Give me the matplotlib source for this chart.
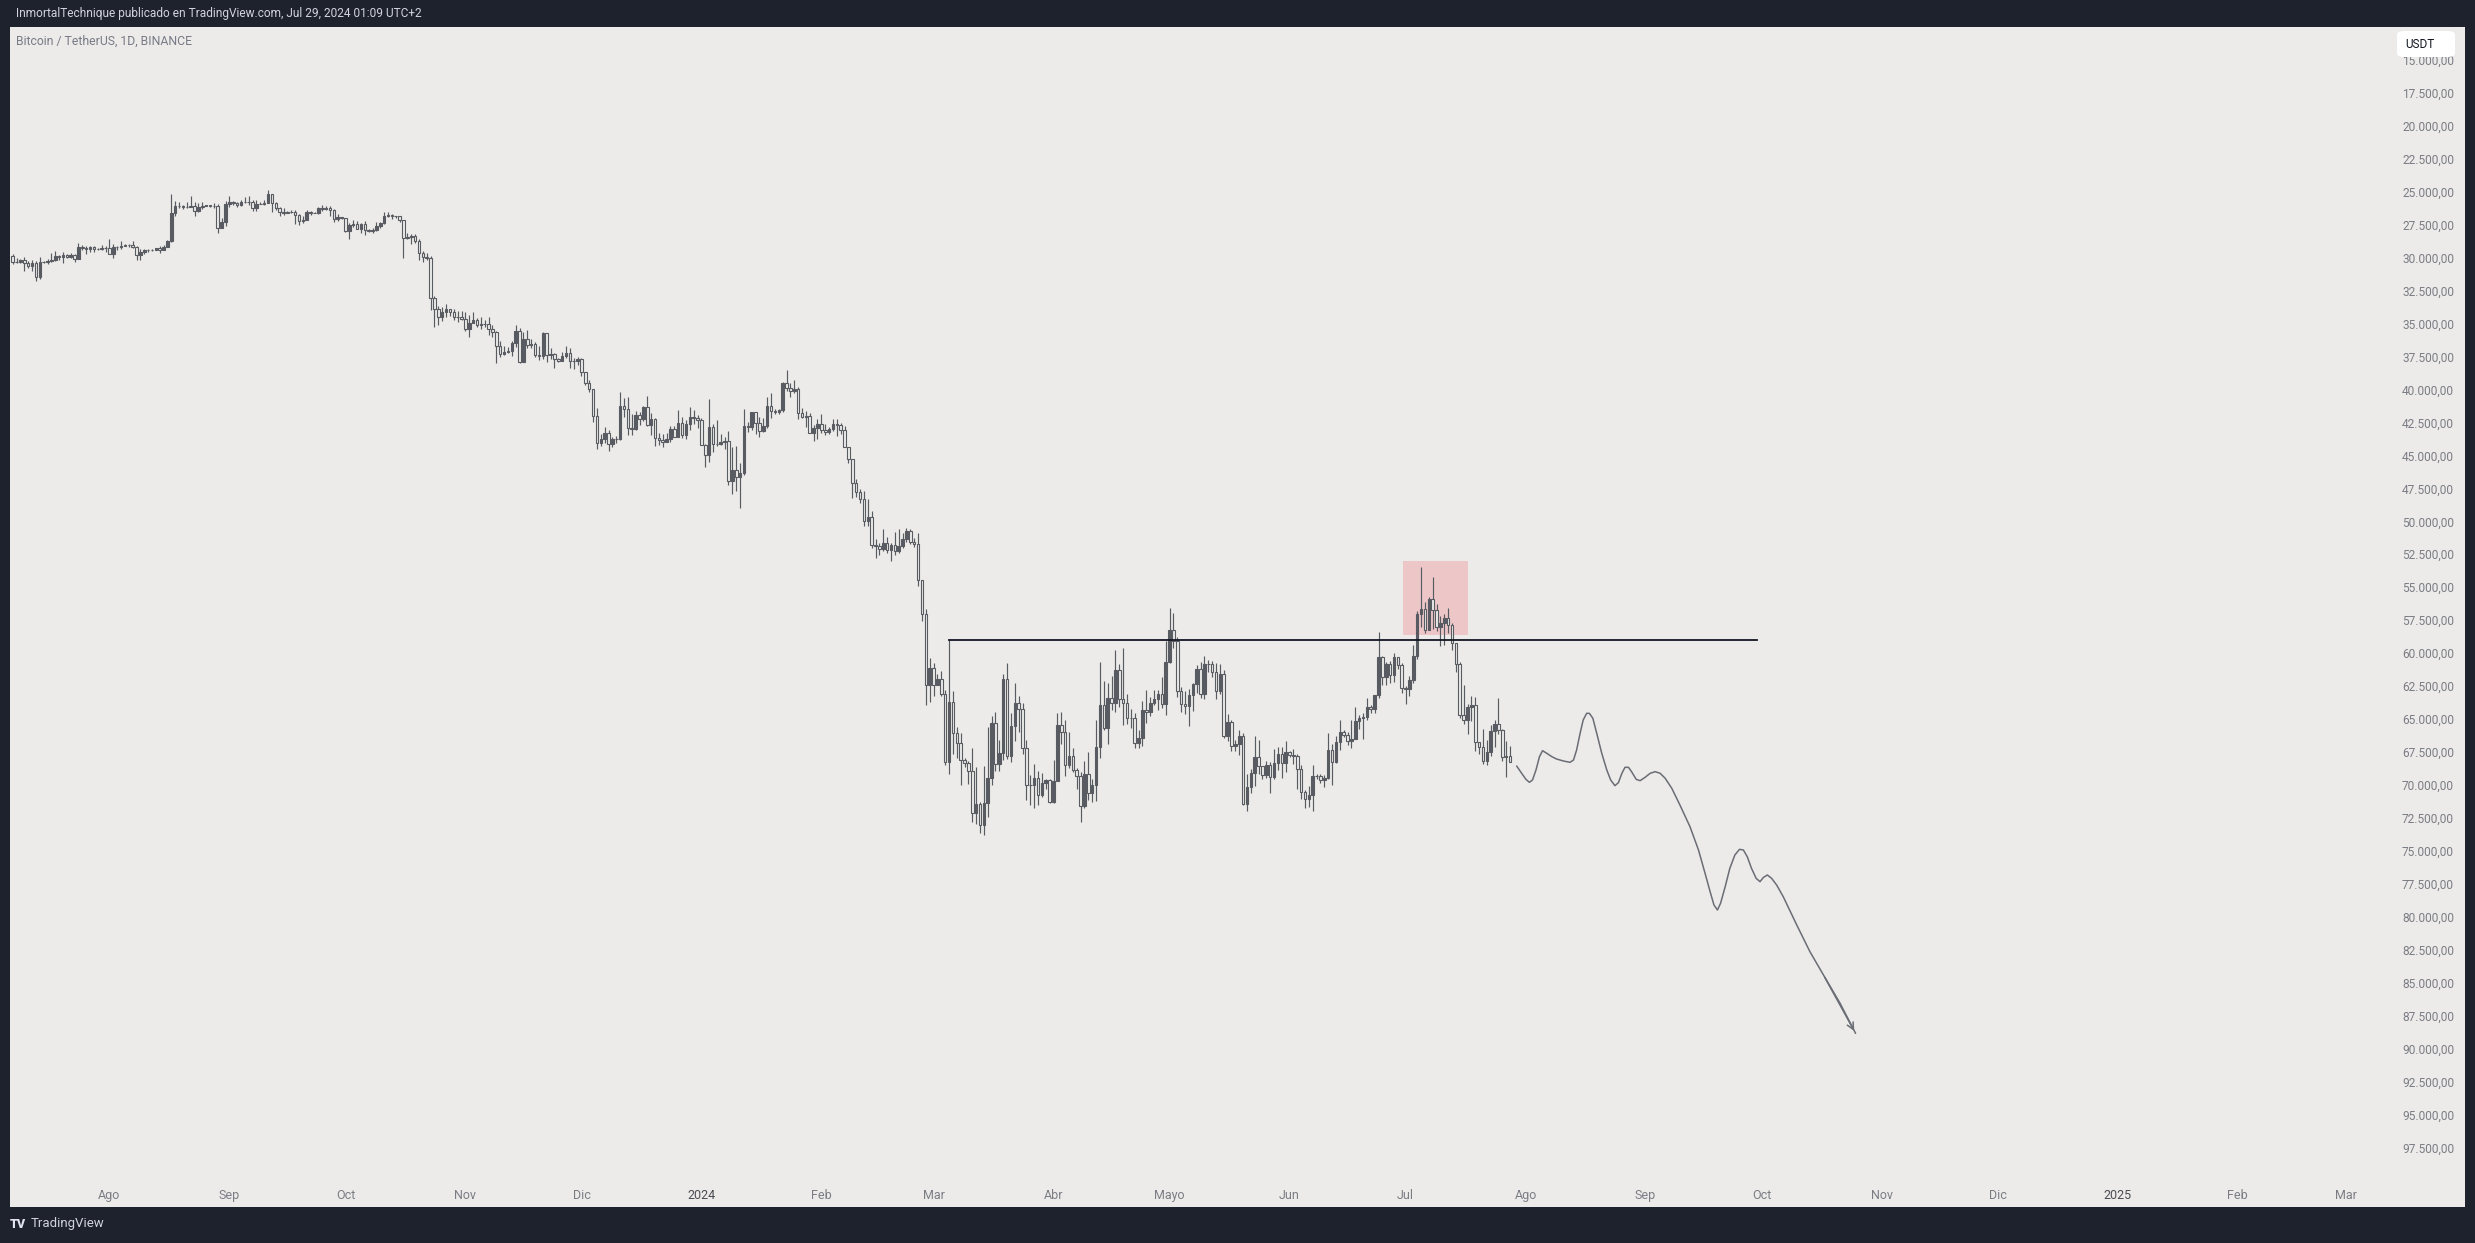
import matplotlib.pyplot as plt
from matplotlib.patches import Rectangle, FancyBboxPatch
import numpy as np
import pandas as pd

W_PX, H_PX = 2475, 1243
DPI = 100

BG_DARK = '#1e222d'
BG_PANE = '#ecebe9'
CANDLE = '#595b62'
TXT_AXIS = '#7b7d85'

plt.rcParams['font.family'] = ['Roboto', 'DejaVu Sans']

# BTCUSDT daily candles, 2023-07-07 -> 2024-07-28 (open = previous close)
START_DATE = '2023-07-07'
FIRST_OPEN = 29900

closes = [
    30340, 30290, 30170, 30410, 30620, 30390, 31450, 30310, 30290, 30230, 30140, 29860, 29910, 29800, 29910, 29790, 30080, 29180, 29230, 29350, 29220, 29310, 29350, 29280, 29230,  # jul
    29710, 29180, 29180, 29080, 29060, 29050, 29180, 29770, 29580, 29430, 29400, 29420, 29280, 29410, 29170, 28700, 26620, 26050, 26100, 26190, 26120, 26050, 26430, 26160, 26050, 26010, 26090, 26100, 27720, 27300, 25930,  # aug
    25800, 25870, 25970, 25810, 25790, 25750, 26240, 25910, 25900, 25840, 25160, 25840, 26230, 26540, 26600, 26570, 26530, 26760, 27210, 27130, 26570, 26580, 26580, 26250, 26300, 26210, 26350, 27030, 26910, 26970,  # sep
    27990, 27500, 27430, 27790, 27410, 27930, 27960, 27920, 27590, 27390, 26870, 26760, 26860, 26850, 27150, 28500, 28400, 28330, 28710, 29680, 29920, 29990, 33070, 33900, 34500, 34150, 33890, 34090, 34530, 34490, 34640,  # oct
    35420, 34940, 34730, 35080, 35050, 35040, 35420, 35630, 36700, 37320, 37130, 37060, 36490, 35550, 37880, 36160, 36600, 36570, 37360, 37450, 35750, 37410, 37290, 37720, 37800, 37450, 37240, 37830, 37850, 37710,  # nov
    38690, 39480, 39970, 41990, 44080, 43770, 43290, 44170, 43720, 43790, 41240, 41450, 42890, 43020, 41930, 42240, 41360, 42660, 42260, 43660, 43860, 43990, 43730, 43010, 43580, 42510, 43460, 42580, 42070, 42140, 42280,  # dec
    44180, 44940, 42850, 44150, 44160, 43970, 43930, 46970, 46120, 46630, 46340, 42780, 42850, 41730, 42510, 43150, 42740, 41260, 41620, 41670, 41550, 39510, 39850, 40080, 39930, 41820, 42120, 42030, 43300, 42940, 42580,  # jan
    43080, 43190, 42990, 42580, 42710, 43090, 44340, 45290, 47130, 47750, 48290, 49950, 49700, 51800, 51900, 52130, 51640, 52140, 51780, 52280, 51850, 51310, 50730, 51570, 51730, 54480, 57040, 62430, 61130,  # feb
    62390, 61990, 63130, 68250, 63720, 66070, 66810, 68140, 68310, 68950, 72120, 71460, 73070, 71390, 69500, 65300, 68390, 67610, 61940, 67840, 65500, 63800, 64210, 67230, 69990, 69980, 69470, 70780, 69890, 69650, 71330,  # mar
    69700, 65460, 65960, 68490, 67820, 68900, 69360, 71620, 69150, 70630, 70010, 67120, 63920, 65660, 63420, 63790, 61280, 63470, 63820, 64940, 64940, 66840, 66410, 64280, 64490, 63770, 63460, 63120, 63840, 60640,  # apr
    58250, 59120, 62890, 63890, 64010, 63160, 62330, 61190, 63070, 60790, 60820, 61450, 62900, 61550, 66260, 65230, 67030, 66930, 66270, 71450, 70140, 69120, 67920, 68530, 69280, 68510, 69390, 68370, 67630, 68360, 67490,  # may
    67710, 67770, 68800, 70570, 71080, 70760, 69340, 69310, 69650, 69510, 67320, 68240, 66760, 66010, 66190, 66640, 66490, 65150, 64960, 64830, 64100, 64250, 63180, 60280, 61800, 60860, 61670, 60320, 60890, 62680,  # jun
    62760, 62030, 60200, 57020, 56660, 58230, 55860, 56710, 58050, 57720, 57340, 57890, 59200, 60800, 64720, 65040, 64090, 63970, 66710, 67150, 68170, 67530, 65930, 65370, 65800, 67900, 67810, 68250,  # jul
]
highs = [
    30450, 30380, 30430, 31040, 30800, 30990, 31800, 31630, 30400, 30460, 30340, 30240, 30190, 30410, 30050, 29990, 30350, 30100, 29380, 29690, 29570, 29530, 29410, 29450, 29530,
    29740, 30050, 29420, 29310, 29110, 29160, 29240, 30180, 30140, 29700, 29540, 29460, 29450, 29670, 29440, 29220, 28780, 26810, 26260, 26300, 26250, 26130, 26820, 26560, 26300, 26090, 26170, 26220, 28140, 27760, 27580,
    26150, 25970, 26120, 26090, 25860, 26030, 26440, 26420, 25950, 26000, 25880, 26540, 26400, 26860, 26780, 26630, 26620, 27430, 27490, 27380, 27150, 26740, 26640, 26720, 26420, 26390, 26830, 27310, 27230, 27090,
    28060, 28600, 27670, 27830, 28120, 28290, 28030, 28110, 27990, 27730, 27480, 26940, 27100, 26960, 27290, 30000, 28610, 28980, 28900, 30200, 30350, 30200, 34000, 35280, 35130, 34830, 34480, 34460, 34750, 34850, 34720,
    35570, 35980, 34940, 35250, 35380, 35280, 35890, 35980, 37970, 37530, 37400, 37230, 37440, 36760, 37980, 37930, 36840, 36850, 37500, 37750, 37650, 37890, 37650, 38400, 37890, 37840, 37580, 38370, 38430, 38140,
    38970, 39690, 40200, 42430, 44490, 44300, 44050, 44700, 44370, 44040, 43800, 42100, 43430, 43420, 43090, 42700, 42420, 42760, 43480, 44280, 44230, 44370, 43800, 43950, 43640, 43590, 43700, 43790, 43110, 42600, 42890,
    44190, 45900, 45500, 44730, 44320, 44190, 44490, 47250, 47900, 47690, 48970, 46500, 43250, 43070, 43400, 43580, 43200, 42930, 42200, 41870, 41890, 41700, 40130, 40540, 40300, 42220, 42200, 42840, 43320, 43880, 43740,
    43290, 43490, 43380, 43120, 43530, 43400, 44390, 45600, 48200, 48160, 48590, 50330, 50370, 52040, 52820, 52570, 52220, 52380, 52980, 52570, 52370, 52010, 51550, 51700, 51960, 54940, 57580, 63910, 63680,
    63230, 62430, 63230, 68500, 69170, 67640, 67980, 69990, 68620, 69950, 72800, 73000, 73650, 73780, 72410, 70000, 68940, 68960, 68100, 68070, 68240, 66650, 65970, 67620, 71160, 71560, 71730, 71540, 70900, 70330, 71370,
    71340, 69700, 66920, 69290, 68720, 69030, 70330, 72800, 71760, 71170, 71280, 71250, 67940, 65840, 66880, 64350, 64460, 64120, 65450, 65390, 65670, 67210, 67200, 67060, 65290, 64800, 63920, 64350, 64170, 64700,
    60780, 59600, 63300, 64490, 64650, 65500, 64390, 62990, 63420, 63460, 61470, 61820, 63450, 63100, 66440, 66680, 67420, 67400, 67700, 71520, 71950, 70650, 70080, 69200, 69570, 69500, 70600, 69580, 68900, 69500, 69000,
    67860, 68450, 70290, 71060, 71760, 71650, 71980, 69570, 69850, 70150, 69560, 69990, 68370, 67320, 66400, 66980, 67190, 66500, 65730, 66480, 65070, 64520, 64520, 63370, 62400, 62450, 62300, 62180, 61190, 63000,
    63840, 63280, 62290, 60470, 58000, 58480, 58240, 58200, 58300, 59470, 59360, 58500, 59800, 61420, 64900, 65390, 66130, 65120, 67450, 67620, 68380, 68480, 67800, 67100, 66160, 68220, 69400, 68300,
]
lows = [
    29700, 30050, 30080, 29950, 30280, 30200, 30250, 29950, 30250, 30080, 29650, 29520, 29760, 29560, 29720, 29640, 29740, 28860, 29060, 29100, 29080, 29120, 29260, 29030, 29110,
    28590, 28950, 29100, 28750, 28960, 28970, 28700, 29120, 29370, 29350, 29350, 29370, 29250, 29100, 29070, 28680, 25170, 25660, 25800, 25980, 25810, 25350, 25800, 25860, 25770, 25970, 25990, 25870, 25920, 27020, 25660,
    25330, 25720, 25810, 25600, 25370, 25350, 25600, 25650, 25800, 25600, 24900, 25130, 25770, 26130, 26230, 26480, 26410, 26380, 26670, 26850, 26350, 26480, 26520, 26130, 26000, 26100, 26110, 26340, 26660, 26890,
    26950, 27330, 27160, 27220, 27350, 27180, 27850, 27720, 27280, 27300, 26540, 26560, 26700, 26820, 26810, 27110, 28100, 28170, 28180, 28600, 29480, 29660, 29880, 32880, 33700, 33750, 33520, 33870, 33930, 34050, 34070,
    34100, 34350, 34100, 34600, 34530, 34730, 34520, 35110, 35530, 36330, 36720, 36760, 36340, 35080, 35360, 35670, 35510, 36190, 36400, 36700, 35630, 35730, 36870, 37250, 37600, 37150, 36720, 36880, 37580, 37500,
    37620, 38650, 39280, 39970, 41420, 43340, 42820, 43080, 43590, 43560, 40220, 40680, 40600, 41830, 41660, 41690, 41250, 40500, 41800, 42200, 43290, 43400, 43300, 42740, 42760, 41520, 42100, 42300, 41300, 41520, 41970,
    42180, 44150, 40750, 42630, 42300, 43400, 43570, 43180, 44340, 44300, 45600, 41500, 42440, 41720, 41720, 42050, 42200, 40600, 40280, 41450, 41500, 39430, 38550, 39480, 39260, 39820, 41400, 41620, 41800, 42680, 42270,
    41880, 42580, 42870, 42250, 42260, 42570, 42790, 44330, 45240, 46800, 47560, 47700, 48300, 49250, 51330, 51610, 50620, 51160, 51660, 50800, 50620, 50880, 50520, 50580, 51270, 50900, 54450, 56640, 60360,
    60770, 61580, 61330, 62820, 59000, 62840, 65600, 66060, 67980, 68180, 67200, 68620, 71330, 68560, 65600, 64780, 64500, 66600, 61560, 60780, 64530, 62260, 63220, 63800, 66590, 69280, 68380, 68910, 69100, 69530, 69570,
    68110, 64540, 64490, 65080, 66010, 67230, 68710, 69040, 68210, 67520, 69570, 65090, 60660, 62130, 62300, 61710, 59760, 60830, 59600, 63100, 64230, 64520, 65800, 63600, 62770, 63300, 62800, 62790, 61800, 59100,
    56550, 56930, 58780, 62580, 62870, 62730, 62250, 60880, 60650, 60200, 60490, 60630, 60750, 60800, 61300, 64600, 65100, 66600, 65860, 66060, 69170, 68820, 66310, 66620, 68530, 68220, 68230, 67280, 67120, 67130, 66650,
    67400, 67300, 67620, 68500, 70380, 70120, 68500, 69210, 69140, 69230, 66050, 66900, 66300, 65070, 65870, 66000, 65100, 64060, 64660, 64530, 63380, 63940, 63170, 58400, 60240, 60680, 60600, 60000, 60300, 60720,
    62500, 61770, 59400, 56770, 53490, 56100, 55780, 54260, 56300, 57150, 57060, 56550, 57750, 59200, 60640, 62450, 63880, 63250, 63300, 66720, 65740, 66570, 65450, 65100, 63430, 65790, 66660, 67060,
]

# drawings (x in days from START_DATE, y in USDT)
box_days = [359.3, 376.1]
box_prices = [53010, 58630]
line_days = [242.0, 450.8]
line_price = 59006

# hand drawn projection path
proj_day = [388.7, 390.0, 391.1, 392.0, 392.8, 393.7, 394.6, 395.4, 396.5, 397.8, 399.0, 400.8, 402.5,
            403.4, 404.2, 405.1, 405.9, 406.8, 407.5, 408.4, 409.4, 410.7, 412.0, 413.0, 414.1, 415.0,
            415.9, 416.7, 417.6, 418.4, 419.6, 420.6, 421.9, 423.2, 424.5, 425.8, 427.1, 428.8, 430.9,
            433.5, 435.7, 437.4, 438.7, 439.7, 440.6, 441.4, 442.6, 443.8, 445.1, 446.3, 447.3, 448.3,
            449.4, 450.6, 451.6, 452.5, 453.5, 454.6, 455.9, 457.6, 461.1, 464.5, 468.0, 472.3, 476.3]
proj_price = [68566, 69122, 69578, 69806, 69628, 68870, 67858, 67403, 67605, 67858, 68035, 68187, 68288,
              68111, 67352, 66088, 65076, 64570, 64570, 64950, 66088, 67605, 68870, 69628, 70058, 69831,
              69122, 68667, 68667, 68996, 69578, 69679, 69426, 69122, 68996, 69122, 69502, 70261, 71525,
              73169, 74939, 76710, 78100, 79112, 79492, 78986, 77721, 76331, 75318, 74889, 74939, 75445,
              76331, 77090, 77343, 77014, 76836, 77090, 77596, 78480, 80630, 82653, 84424, 86573, 88850]

MONTHS_ES = ['Ene', 'Feb', 'Mar', 'Abr', 'Mayo', 'Jun', 'Jul', 'Ago', 'Sep', 'Oct', 'Nov', 'Dic']
price_ticks = np.arange(15000, 97501, 2500)


def fx(px):
    return px / W_PX


def fy(py):
    return 1 - py / H_PX


def fmt_price(v):
    # 17500 -> 17.500,00
    return f"{v:,.2f}".replace(',', 'X').replace('.', ',').replace('X', '.')


closes = np.array(closes, dtype=float)
highs = np.array(highs, dtype=float)
lows = np.array(lows, dtype=float)
opens = np.concatenate([[FIRST_OPEN], closes[:-1]])
highs = np.maximum(highs, np.maximum(opens, closes))
lows = np.minimum(lows, np.minimum(opens, closes))
x = np.arange(len(closes))
start = pd.Timestamp(START_DATE)

fig = plt.figure(figsize=(W_PX / DPI, H_PX / DPI), dpi=DPI, facecolor=BG_DARK)

# light chart frame (behind the axes)
fig.patches.append(Rectangle((fx(10), fy(1207)), fx(2465) - fx(10), fy(27) - fy(1207),
                             transform=fig.transFigure, facecolor=BG_PANE, edgecolor='none', zorder=-5))

ax = fig.add_axes([fx(10), fy(1178), fx(2393) - fx(10), fy(27) - fy(1178)])
ax.set_facecolor(BG_PANE)
for s in ax.spines.values():
    s.set_visible(False)

ax.set_xlim(-0.7, 615.2)
ax.set_ylim(99826, 12496)  # inverted price scale

# candles
up = closes >= opens
ax.vlines(x, lows, highs, color=CANDLE, lw=0.85, zorder=2)
ax.bar(x[up], (closes - opens)[up], bottom=opens[up], width=0.66,
       facecolor=BG_PANE, edgecolor=CANDLE, lw=0.8, zorder=3)
ax.bar(x[~up], (opens - closes)[~up], bottom=closes[~up], width=0.66,
       facecolor=CANDLE, edgecolor=CANDLE, lw=0.8, zorder=3)

# red zone + horizontal level
ax.add_patch(Rectangle((box_days[0], box_prices[0]), box_days[1] - box_days[0], box_prices[1] - box_prices[0],
                       facecolor='#f23645', alpha=0.2, edgecolor='none', zorder=1))
ax.plot(line_days, [line_price, line_price], color='#131722', lw=1.3, zorder=4)

# projection
ax.plot(proj_day, proj_price, color='#6a6d75', lw=1.1, zorder=4, solid_capstyle='round')
ax.annotate('', xy=(proj_day[-1], proj_price[-1]), xytext=(proj_day[-3], proj_price[-3]),
            arrowprops=dict(arrowstyle='->', color='#6a6d75', lw=1.1, mutation_scale=12), zorder=4)

# price axis
ax.yaxis.tick_right()
ax.set_yticks(price_ticks)
ax.set_yticklabels([fmt_price(v) for v in price_ticks])
ax.tick_params(axis='y', length=0, pad=6.5, labelsize=8.6, labelcolor=TXT_AXIS)

# time axis
months = pd.date_range('2023-08-01', '2025-03-01', freq='MS')
ax.set_xticks([(m - start).days for m in months])
ax.set_xticklabels([str(m.year) if m.month == 1 else MONTHS_ES[m.month - 1] for m in months])
ax.tick_params(axis='x', length=0, pad=8, labelsize=9, labelcolor=TXT_AXIS)
for lbl, m in zip(ax.get_xticklabels(), months):
    if m.month == 1:
        lbl.set_color('#4a4c53')

# USDT badge (covers the top of the 15.000 label)
fig.patches.append(FancyBboxPatch((fx(2397), fy(57)), fx(2455) - fx(2397), fy(31) - fy(57),
                                  boxstyle='round,pad=0,rounding_size=0.003', transform=fig.transFigure,
                                  facecolor='white', edgecolor='none', zorder=5))
fig.text(fx(2405), fy(44), 'USDT', color='#131722', fontsize=8.5, va='center', ha='left', zorder=6)

# header / titles / footer
fig.text(fx(16), fy(14), 'InmortalTechnique publicado en TradingView.com, Jul 29, 2024 01:09 UTC+2',
         color='#d1d4dc', fontsize=8.6, va='center', ha='left')
fig.text(fx(16), fy(41), 'Bitcoin / TetherUS, 1D, BINANCE', color='#787b86', fontsize=8.8, va='center', ha='left')
fig.text(fx(10), fy(1224), 'TV', color='#e0e3eb', fontsize=9, fontweight='heavy', va='center', ha='left')
fig.text(fx(31), fy(1224), 'TradingView', color='#d1d4dc', fontsize=9.5, va='center', ha='left')

fig.savefig('out.png', dpi=DPI, facecolor=BG_DARK)
